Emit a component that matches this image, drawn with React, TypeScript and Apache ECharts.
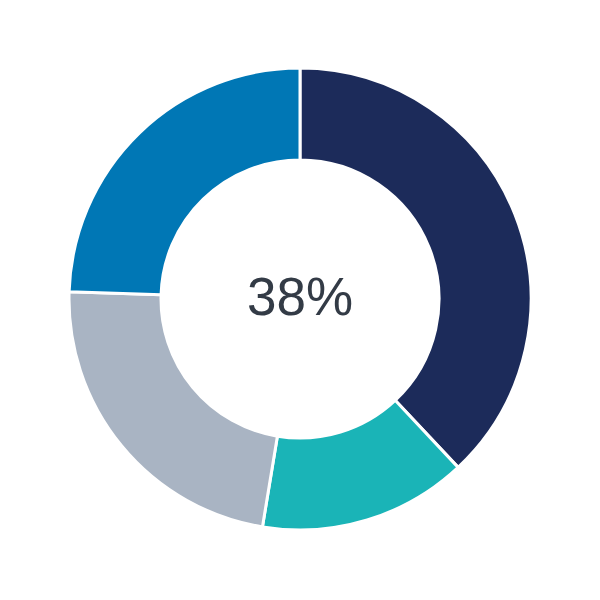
import React, { useEffect, useRef } from 'react';
import * as echarts from 'echarts';

// slices clockwise from 12 o'clock
const segmentNames = ['Segment A', 'Segment B', 'Segment C', 'Segment D'];
const segmentValues = [38, 14.6, 22.9, 24.5];
const segmentColors = ['#1c2b5a', '#1ab4b7', '#a9b4c3', '#0077b5'];
const centerLabel = '38%';

const App: React.FC = () => {
  const chartRef = useRef<HTMLDivElement>(null);

  useEffect(() => {
    document.body.style.margin = '0';
    if (!chartRef.current) return;
    const chart = echarts.init(chartRef.current, undefined, { renderer: 'svg' });

    const option: echarts.EChartsOption = {
      animation: false,
      backgroundColor: '#ffffff',
      graphic: [
        {
          type: 'text',
          x: 300,
          y: 296,
          style: {
            text: centerLabel,
            fontSize: 53,
            fontFamily: 'Liberation Sans, Arial, sans-serif',
            fill: '#333b46',
            align: 'center',
            verticalAlign: 'middle'
          }
        }
      ],
      series: [
        {
          type: 'pie',
          center: [300, 299],
          radius: [139, 231],
          startAngle: 90,
          clockwise: true,
          label: { show: false },
          labelLine: { show: false },
          emphasis: { disabled: true },
          itemStyle: {
            borderColor: '#ffffff',
            borderWidth: 3
          },
          data: segmentNames.map((name, i) => ({
            name,
            value: segmentValues[i],
            itemStyle: { color: segmentColors[i] }
          }))
        }
      ]
    };

    chart.setOption(option);

    return () => {
      chart.dispose();
    };
  }, []);

  return <div ref={chartRef} style={{ width: '600px', height: '600px' }} />;
};

export default App;
